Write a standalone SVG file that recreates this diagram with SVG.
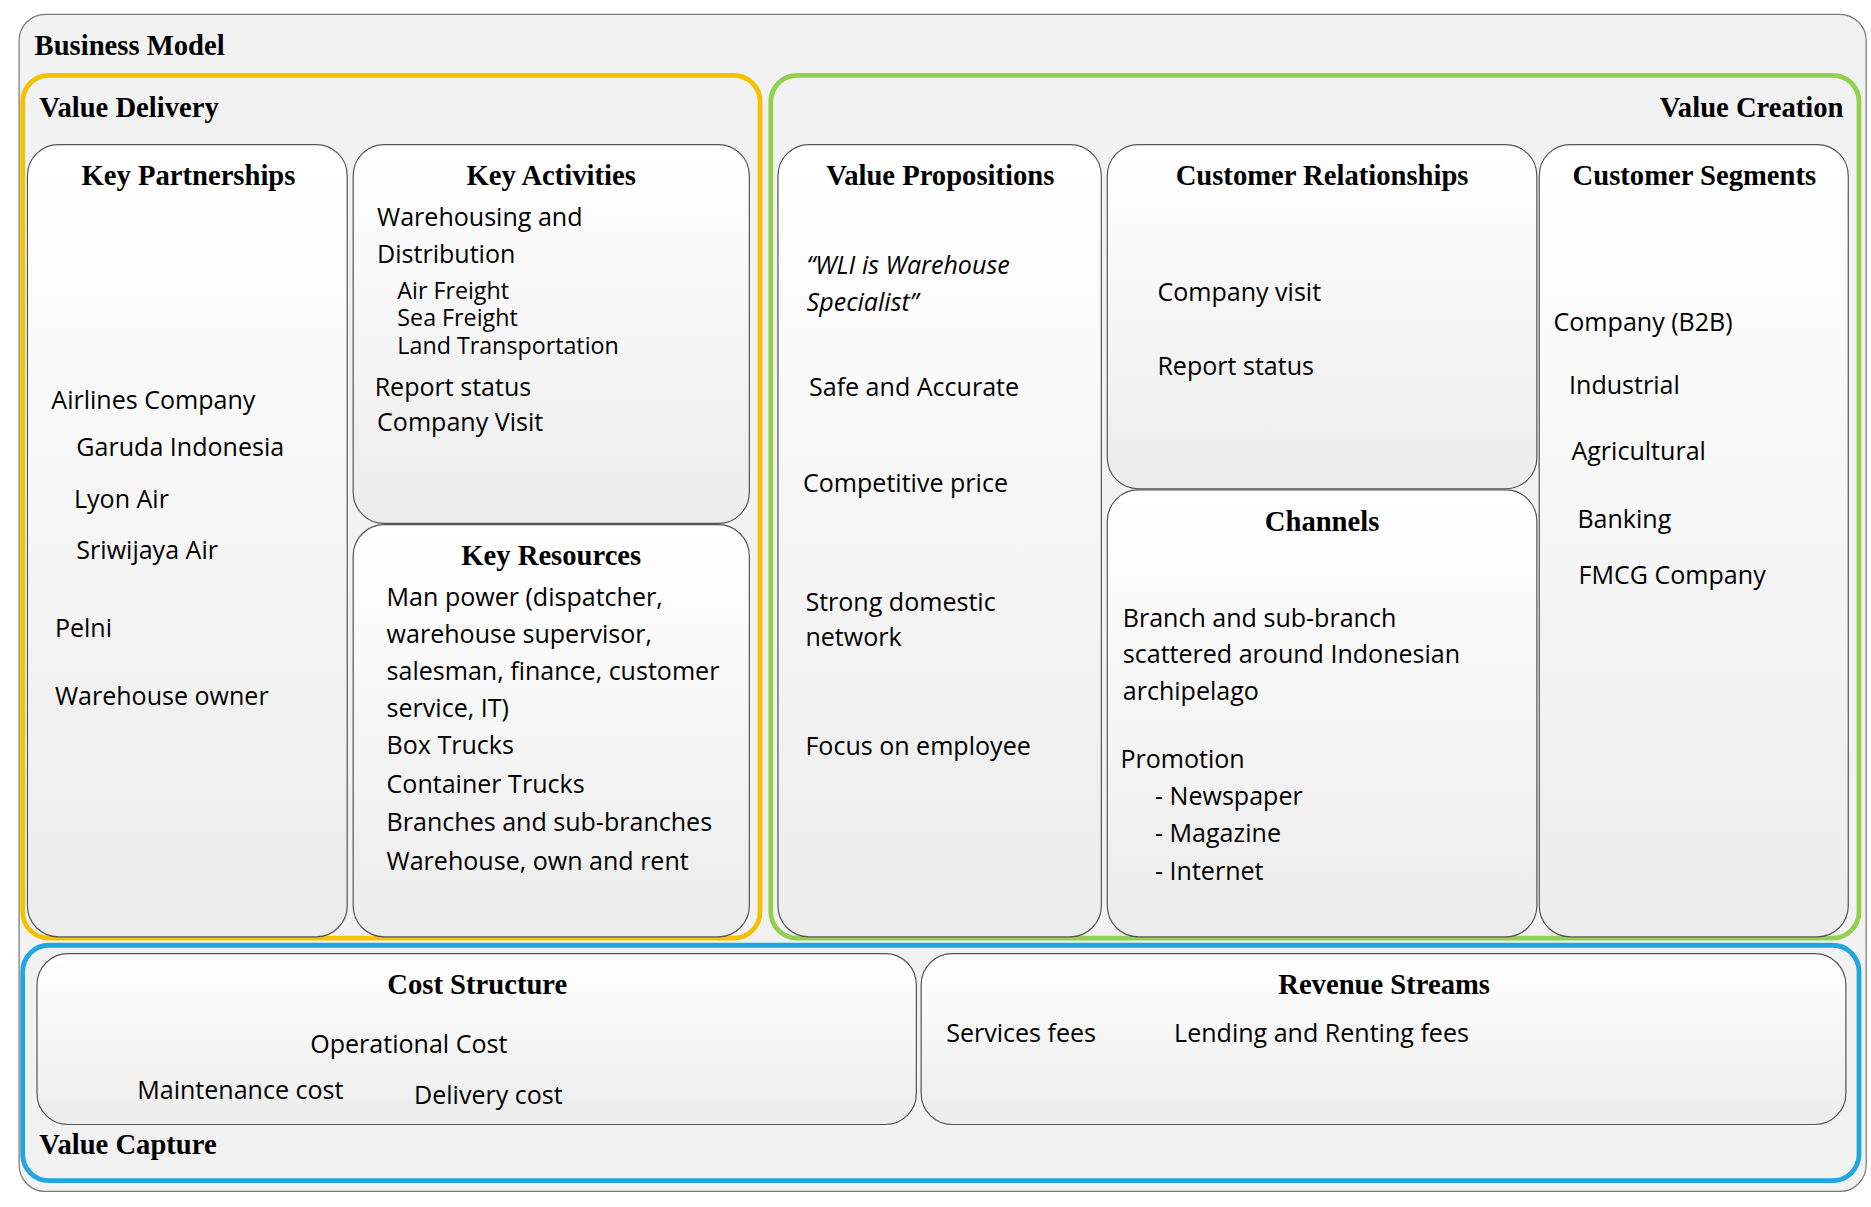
<svg xmlns="http://www.w3.org/2000/svg" width="1871" height="1207" viewBox="0 0 1871 1207">
<defs>
<linearGradient id="g" x1="0" y1="0" x2="0" y2="1"><stop offset="0" stop-color="#ffffff"/><stop offset="1" stop-color="#ececec"/></linearGradient>
<style>
.box{fill:url(#g);stroke:#555;stroke-width:1}
.h{font-family:"Liberation Serif",serif;font-weight:bold;font-size:24px;fill:#000}
.t{font-family:"Open Sans","Liberation Sans",sans-serif;font-size:21px;fill:#000}
.s{font-size:19.5px}
.c{text-anchor:middle}
</style>
</defs>
<rect width="1871" height="1207" fill="#fff"/>
<g transform="scale(1.1932,1.195)">
<g id="business-model"><rect x="16" y="12" width="1548" height="985" rx="22" fill="#f2f2f2" stroke="#777"/><text class="h" x="29" y="46">Business Model</text></g>
<g id="value-delivery"><rect x="19" y="63" width="618" height="722" rx="22" fill="none" stroke="#F5C000" stroke-width="4"/><text class="h" x="33" y="98">Value Delivery</text></g>
<g id="value-creation"><rect x="646" y="63" width="912" height="722" rx="22" fill="none" stroke="#92D050" stroke-width="4"/><text class="h" x="1545" y="98" text-anchor="end">Value Creation</text></g>
<g id="value-capture"><rect x="19" y="791" width="1539" height="197" rx="22" fill="none" stroke="#1FA8E0" stroke-width="4"/><text class="h" x="33" y="966">Value Capture</text></g>
<g id="key-partnerships"><rect class="box" x="23" y="121" width="268" height="663" rx="26"/>
<text class="h c" x="158" y="155">Key Partnerships</text>
<text class="t" x="43" y="342">Airlines Company</text><text class="t" x="64" y="382">Garuda Indonesia</text><text class="t" x="62" y="425">Lyon Air</text><text class="t" x="64" y="468">Sriwijaya Air</text><text class="t" x="46" y="533">Pelni</text><text class="t" x="46" y="590">Warehouse owner</text></g>
<g id="key-activities"><rect class="box" x="296" y="121" width="332" height="317" rx="26"/>
<text class="h c" x="462" y="155">Key Activities</text>
<text class="t" x="316" y="189">Warehousing and</text><text class="t" x="316" y="220">Distribution</text><text class="t s" x="333" y="250">Air Freight</text><text class="t s" x="333" y="273">Sea Freight</text><text class="t s" x="333" y="296">Land Transportation</text><text class="t" x="314" y="331">Report status</text><text class="t" x="316" y="361">Company Visit</text></g>
<g id="key-resources"><rect class="box" x="296" y="439" width="332" height="345" rx="26"/>
<text class="h c" x="462" y="473">Key Resources</text>
<text class="t" x="324" y="507">Man power (dispatcher,</text><text class="t" x="324" y="538">warehouse supervisor,</text><text class="t" x="324" y="569">salesman, finance, customer</text><text class="t" x="324" y="600">service, IT)</text><text class="t" x="324" y="631">Box Trucks</text><text class="t" x="324" y="664">Container Trucks</text><text class="t" x="324" y="695">Branches and sub-branches</text><text class="t" x="324" y="728">Warehouse, own and rent</text></g>
<g id="value-propositions"><rect class="box" x="652" y="121" width="271" height="663" rx="26"/>
<text class="h c" x="788" y="155">Value Propositions</text>
<text class="t" x="676" y="229" font-style="italic">“WLI is Warehouse</text><text class="t" x="676" y="260" font-style="italic">Specialist”</text><text class="t" x="678" y="331">Safe and Accurate</text><text class="t" x="673" y="412">Competitive price</text><text class="t" x="675" y="511">Strong domestic</text><text class="t" x="675" y="541">network</text><text class="t" x="675" y="632">Focus on employee</text></g>
<g id="customer-relationships"><rect class="box" x="928" y="121" width="360" height="288" rx="26"/>
<text class="h c" x="1108" y="155">Customer Relationships</text>
<text class="t" x="970" y="252">Company visit</text><text class="t" x="970" y="314">Report status</text></g>
<g id="channels"><rect class="box" x="928" y="410" width="360" height="374" rx="26"/>
<text class="h c" x="1108" y="444">Channels</text>
<text class="t" x="941" y="525">Branch and sub-branch</text><text class="t" x="941" y="555">scattered around Indonesian</text><text class="t" x="941" y="586">archipelago</text><text class="t" x="939" y="643">Promotion</text><text class="t" x="968" y="674">- Newspaper</text><text class="t" x="968" y="705">- Magazine</text><text class="t" x="968" y="736">- Internet</text></g>
<g id="customer-segments"><rect class="box" x="1290" y="121" width="259" height="663" rx="26"/>
<text class="h c" x="1420" y="155">Customer Segments</text>
<text class="t" x="1302" y="277">Company (B2B)</text><text class="t" x="1315" y="330">Industrial</text><text class="t" x="1317" y="385">Agricultural</text><text class="t" x="1322" y="442">Banking</text><text class="t" x="1323" y="489">FMCG Company</text></g>
<g id="cost-structure"><rect class="box" x="31" y="798" width="737" height="143" rx="26"/>
<text class="h c" x="400" y="832">Cost Structure</text>
<text class="t" x="260" y="881">Operational Cost</text><text class="t" x="115" y="920">Maintenance cost</text><text class="t" x="347" y="924">Delivery cost</text></g>
<g id="revenue-streams"><rect class="box" x="772" y="798" width="775" height="143" rx="26"/>
<text class="h c" x="1160" y="832">Revenue Streams</text>
<text class="t" x="793" y="872">Services fees</text><text class="t" x="984" y="872">Lending and Renting fees</text></g>
<g id="connectors"/>
</g>
</svg>
